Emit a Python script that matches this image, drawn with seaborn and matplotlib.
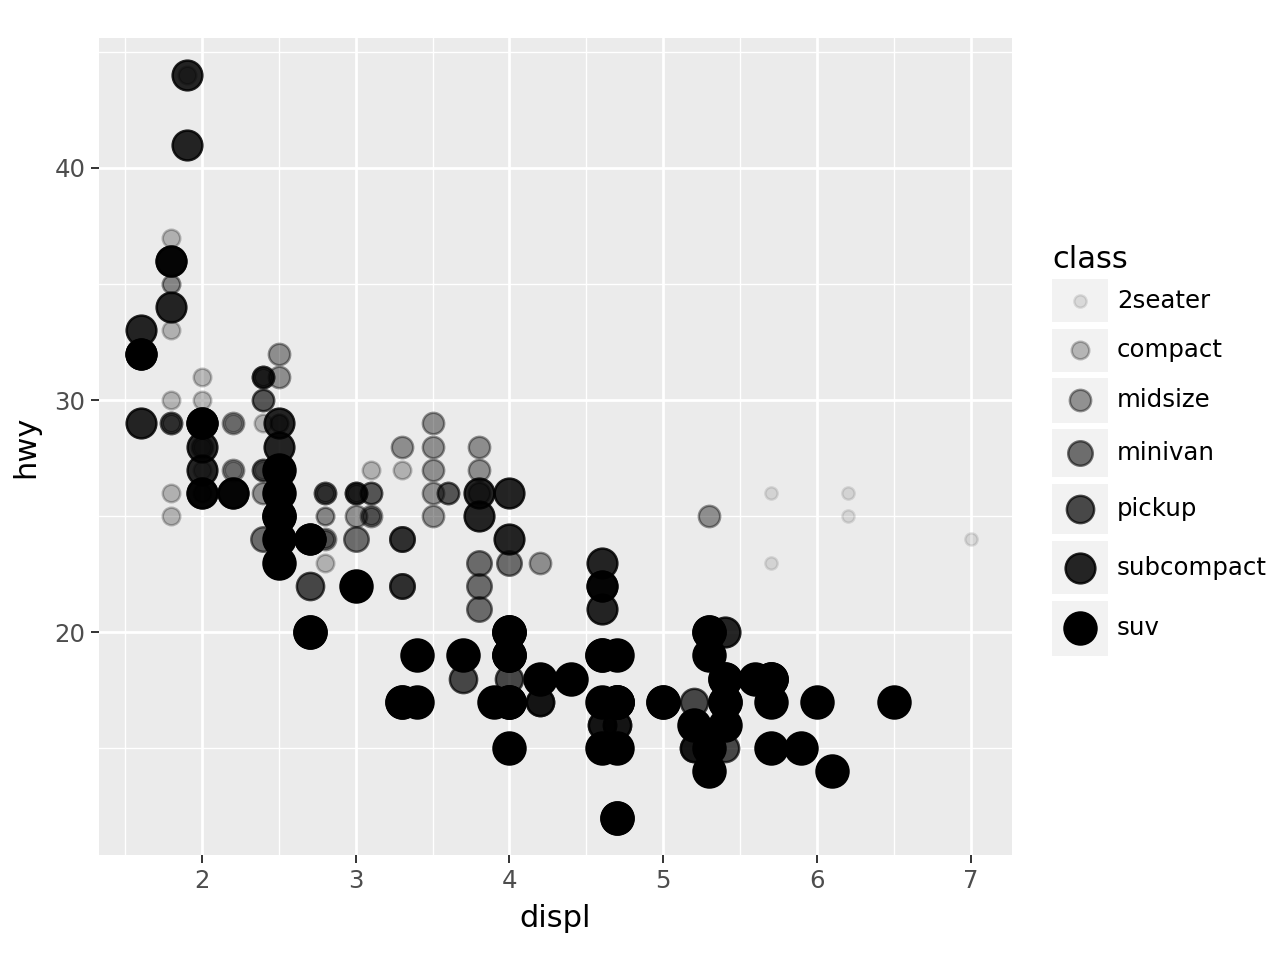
import numpy as np
import pandas as pd
import matplotlib
matplotlib.use("Agg")
import matplotlib.pyplot as plt
from matplotlib.patches import Rectangle
from matplotlib.lines import Line2D
import seaborn as sns

# --------------------------------------------------
# Data: engine displacement vs highway mpg, by class
# --------------------------------------------------

classes = ["2seater", "compact", "midsize", "minivan", "pickup", "subcompact", "suv"]

displ_2seater = [5.7, 5.7, 6.2, 6.2, 7.0]
hwy_2seater = [26, 23, 26, 25, 24]

displ_compact = [1.8, 1.8, 2.0, 2.0, 2.8, 2.8, 3.1, 1.8, 1.8, 2.0, 2.0, 2.8, 2.8, 3.1, 3.1,
                 2.4, 2.4, 2.5, 2.5, 2.5, 2.5,
                 2.2, 2.2, 2.4, 2.4, 3.0, 3.0, 3.3, 1.8, 1.8, 1.8, 1.8, 1.8,
                 2.0, 2.0, 2.0, 2.0, 2.8, 1.9, 2.0, 2.0, 2.0, 2.0, 2.5, 2.5, 2.8, 2.8]
hwy_compact = [29, 29, 31, 30, 26, 26, 27, 26, 25, 28, 27, 25, 25, 25, 25,
               29, 27, 25, 27, 25, 27,
               27, 29, 31, 31, 26, 26, 27, 30, 33, 35, 37, 35,
               29, 26, 29, 29, 24, 44, 29, 26, 29, 29, 29, 29, 23, 24]

displ_midsize = [2.8, 3.1, 4.2, 2.4, 2.4, 3.1, 3.5, 3.6,
                 2.4, 2.4, 2.4, 2.4, 2.5, 2.5, 3.3,
                 2.5, 2.5, 3.5, 3.5, 3.0, 3.0, 3.5,
                 3.1, 3.8, 3.8, 3.8, 5.3,
                 2.2, 2.2, 2.4, 2.4, 3.0, 3.0, 3.5,
                 1.8, 1.8, 2.0, 2.0, 2.8, 2.8, 3.6]
hwy_midsize = [24, 25, 23, 27, 30, 26, 29, 26,
               26, 27, 30, 31, 26, 26, 28,
               31, 32, 27, 26, 26, 25, 25,
               26, 26, 27, 28, 25,
               29, 27, 31, 31, 26, 26, 28,
               29, 29, 28, 29, 26, 26, 26]

displ_minivan = [2.4, 3.0, 3.3, 3.3, 3.3, 3.3, 3.3, 3.8, 3.8, 3.8, 4.0]
hwy_minivan = [24, 24, 22, 22, 24, 24, 17, 22, 21, 23, 23]

displ_pickup = [3.7, 3.7, 3.9, 3.9, 4.7, 4.7, 4.7, 5.2, 5.2,
                4.7, 4.7, 4.7, 4.7, 4.7, 4.7, 5.2, 5.2, 5.7, 5.9,
                4.2, 4.2, 4.6, 4.6, 4.6, 5.4, 5.4,
                2.7, 2.7, 2.7, 3.4, 3.4, 4.0, 4.0]
hwy_pickup = [19, 18, 17, 17, 19, 19, 12, 17, 15,
              16, 12, 17, 17, 16, 12, 15, 16, 17, 15,
              17, 17, 16, 16, 17, 15, 17,
              20, 20, 22, 17, 19, 18, 20]

displ_subcompact = [3.8, 3.8, 4.0, 4.0, 4.6, 4.6, 4.6, 4.6, 5.4,
                    1.6, 1.6, 1.6, 1.6, 1.6, 1.8, 1.8, 1.8, 2.0,
                    2.0, 2.0, 2.0, 2.0, 2.7, 2.7, 2.7,
                    2.2, 2.2, 2.5, 2.5,
                    1.9, 1.9, 2.0, 2.0, 2.5, 2.5]
hwy_subcompact = [26, 25, 26, 24, 21, 22, 23, 22, 20,
                  33, 32, 32, 29, 32, 34, 36, 36, 29,
                  26, 29, 28, 27, 24, 24, 24,
                  26, 26, 26, 26,
                  44, 41, 29, 26, 28, 29]

displ_suv = [5.3, 5.3, 5.3, 5.7, 6.0, 5.3, 5.3, 5.7, 6.5,
             3.9, 4.7, 4.7, 4.7, 5.2, 5.7, 5.9,
             4.6, 5.4, 5.4, 4.0, 4.0, 4.0, 4.0, 4.6, 5.0,
             3.0, 3.7, 4.0, 4.7, 4.7, 4.7, 5.7, 6.1,
             4.0, 4.2, 4.4, 4.6, 5.4, 5.4, 5.4,
             4.0, 4.0, 4.6, 5.0, 3.3, 3.3, 4.0, 5.6,
             2.5, 2.5, 2.5, 2.5, 2.5, 2.5,
             2.7, 2.7, 3.4, 3.4, 4.0, 4.7, 4.7, 5.7]
hwy_suv = [20, 15, 20, 17, 17, 19, 14, 15, 17,
           17, 17, 12, 17, 16, 18, 15,
           17, 17, 18, 17, 19, 17, 19, 19, 17,
           22, 19, 20, 17, 12, 19, 18, 14,
           15, 18, 18, 15, 17, 16, 18,
           17, 19, 19, 17, 17, 17, 20, 18,
           25, 24, 27, 25, 26, 23,
           20, 20, 19, 17, 20, 17, 15, 18]

mpg = pd.concat([
    pd.DataFrame({"displ": displ_2seater, "hwy": hwy_2seater, "class": "2seater"}),
    pd.DataFrame({"displ": displ_compact, "hwy": hwy_compact, "class": "compact"}),
    pd.DataFrame({"displ": displ_midsize, "hwy": hwy_midsize, "class": "midsize"}),
    pd.DataFrame({"displ": displ_minivan, "hwy": hwy_minivan, "class": "minivan"}),
    pd.DataFrame({"displ": displ_pickup, "hwy": hwy_pickup, "class": "pickup"}),
    pd.DataFrame({"displ": displ_subcompact, "hwy": hwy_subcompact, "class": "subcompact"}),
    pd.DataFrame({"displ": displ_suv, "hwy": hwy_suv, "class": "suv"}),
], ignore_index=True)

# --------------------------------------------------
# ggplot-like ordinal scales for alpha and size
# --------------------------------------------------

n = len(classes)
alphas = np.linspace(0.1, 1.0, n)
sizes = np.sqrt(np.linspace(2 ** 2, 6 ** 2, n))
stroke = 0.5
size_factor = np.sqrt(np.pi)
edge_lw = stroke * size_factor

# --------------------------------------------------
# Figure
# --------------------------------------------------

sns.set_style("darkgrid", {"axes.facecolor": "#EBEBEB", "grid.color": "white",
                           "text.color": "black", "axes.labelcolor": "black"})
plt.rcParams["font.family"] = ["DejaVu Sans"]

W, H = 1280, 960
fig = plt.figure(figsize=(6.4, 4.8), dpi=200)
ax = fig.add_axes([99 / W, 1 - 855 / H, (1012 - 99) / W, (855 - 38) / H])

for cls, a, sz in zip(classes, alphas, sizes):
    sub = mpg[mpg["class"] == cls]
    sns.scatterplot(
        data=sub, x="displ", y="hwy",
        s=np.pi * (sz + stroke) ** 2,
        color="black", edgecolor="black", linewidth=edge_lw,
        alpha=a, ax=ax, legend=False, zorder=3
    )

xr = mpg["displ"].max() - mpg["displ"].min()
yr = mpg["hwy"].max() - mpg["hwy"].min()
ax.set_xlim(mpg["displ"].min() - 0.05 * xr, mpg["displ"].max() + 0.05 * xr)
ax.set_ylim(mpg["hwy"].min() - 0.05 * yr, mpg["hwy"].max() + 0.05 * yr)

ax.set_xticks([2, 3, 4, 5, 6, 7])
ax.set_yticks([20, 30, 40])
ax.set_xticks(np.arange(1.5, 7.0, 1.0), minor=True)
ax.set_yticks([15, 25, 35, 45], minor=True)
ax.grid(which="major", color="white", linewidth=1.0, zorder=0)
ax.grid(which="minor", color="white", linewidth=0.5, zorder=0)
ax.set_axisbelow(True)
for sp in ax.spines.values():
    sp.set_visible(False)

ax.tick_params(which="major", length=2.75, width=0.7, color="#333333",
               labelcolor="#4D4D4D", labelsize=8.8, pad=2.2,
               bottom=True, left=True)
ax.tick_params(which="minor", length=0, bottom=False, left=False)

ax.set_xlabel("displ", fontsize=11, color="black", labelpad=4)
ax.set_ylabel("hwy", fontsize=11, color="black", labelpad=5)

# --------------------------------------------------
# Legend (drawn by hand to mimic ggplot keys)
# --------------------------------------------------

fig.text(1052 / W, 1 - 268 / H, "class", fontsize=11, color="black",
         ha="left", va="baseline")

key_x, key_w = 1052, 56
y_top = 279
for cls, a, sz in zip(classes, alphas, sizes):
    ms = size_factor * (sz + stroke)
    d_px = (ms + edge_lw) * 200 / 72
    key_h = max(43, d_px + 21)
    cy = y_top + key_h / 2
    fig.add_artist(Rectangle((key_x / W, 1 - (y_top + key_h) / H), key_w / W, key_h / H,
                             transform=fig.transFigure, facecolor="#F2F2F2",
                             edgecolor="none"))
    fig.add_artist(Line2D([(key_x + key_w / 2) / W], [1 - cy / H], marker="o",
                          markersize=ms, markerfacecolor="black",
                          markeredgecolor="black", markeredgewidth=edge_lw,
                          alpha=a, linestyle="none", transform=fig.transFigure))
    fig.text(1117 / W, 1 - cy / H, cls, fontsize=8.8, color="black",
             ha="left", va="center")
    y_top += key_h + 6.5

fig.savefig("out.png", dpi=200, facecolor="white")
